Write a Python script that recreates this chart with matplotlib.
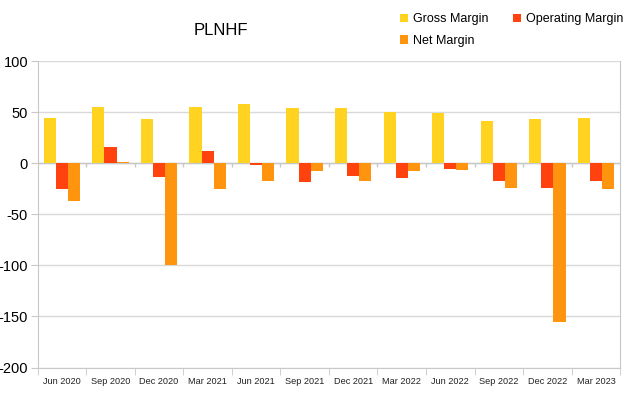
"""Gross / operating / net margin bar chart for PLNHF."""

import numpy as np
import matplotlib
matplotlib.use("Agg")
import matplotlib.pyplot as plt
from matplotlib import font_manager

# ---------------------------------------------------------------------------
# Data
# ---------------------------------------------------------------------------
quarters = ["Jun 2020", "Sep 2020", "Dec 2020", "Mar 2021", "Jun 2021", "Sep 2021",
            "Dec 2021", "Mar 2022", "Jun 2022", "Sep 2022", "Dec 2022", "Mar 2023"]
gross_margin = [44.5, 54.9, 42.8, 54.6, 58.2, 53.6, 54.3, 50.4, 48.7, 41.6, 43.1, 43.8]
operating_margin = [-24.8, 16.0, -13.7, 11.8, -1.5, -18.3, -13.0, -14.0, -5.9, -17.0, -24.2, -17.6]
net_margin = [-36.6, 1.0, -100.0, -25.1, -17.0, -7.8, -17.0, -7.8, -6.8, -24.2, -155.5, -24.8]

series = [
    ("Gross Margin", gross_margin, "#FFD320"),
    ("Operating Margin", operating_margin, "#FF420E"),
    ("Net Margin", net_margin, "#FF950E"),
]

plt.rcParams["font.family"] = ["Liberation Sans", "DejaVu Sans"]
plt.rcParams["axes.unicode_minus"] = False
names = {f.name for f in font_manager.fontManager.ttflist}
narrow = "Liberation Sans Narrow" if "Liberation Sans Narrow" in names else "Liberation Sans"

fig = plt.figure(figsize=(6.4, 4.07), dpi=100)
ax = fig.add_axes([0.059, 0.097, 0.910, 0.753])

x = np.arange(len(quarters))
width = 0.25
bars = []
for i, (name, vals, color) in enumerate(series):
    bars.append(ax.bar(x + (i - 1) * width, vals, width, color=color, label=name, zorder=3))

ax.set_xlim(-0.5, len(quarters) - 0.5)
ax.set_ylim(-200, 100)
ax.set_yticks(range(-200, 101, 50))
ax.grid(axis="y", color="#d9d9d9", lw=1, zorder=0)

# category boundary ticks, at the bottom and along the zero line
bounds = np.arange(len(quarters) + 1) - 0.5
ax.set_xticks(x)
ax.set_xticklabels(quarters, fontsize=6.6, family=narrow)
ax.set_xticks(bounds, minor=True)
ax.tick_params(axis="x", which="major", length=0, pad=7, labelcolor="#222222")
ax.tick_params(axis="x", which="minor", length=5, color="#c8c8c8")
ax.vlines(bounds[1:-1], -4, 0, color="#c8c8c8", lw=1, zorder=2)
ax.axhline(0, color="#c8c8c8", lw=1, zorder=2)
ax.tick_params(axis="y", length=5, color="#c8c8c8", labelsize=10.5, pad=2)

for side in ["left", "right", "bottom"]:
    ax.spines[side].set_color("#c8c8c8")
ax.spines["top"].set_visible(False)

fig.text(0.345, 0.925, "PLNHF", fontsize=12, ha="center", va="center")
# column-major fill: Gross / Net in col 1, Operating in col 2
fig.legend([bars[0], bars[2], bars[1]], [series[0][0], series[2][0], series[1][0]],
           loc="upper left", bbox_to_anchor=(0.607, 0.995), ncol=2, frameon=False,
           fontsize=9, handlelength=0.7, handleheight=0.7, handletextpad=0.4,
           columnspacing=1.9, labelspacing=0.75)

fig.savefig("out.png", dpi=100)
